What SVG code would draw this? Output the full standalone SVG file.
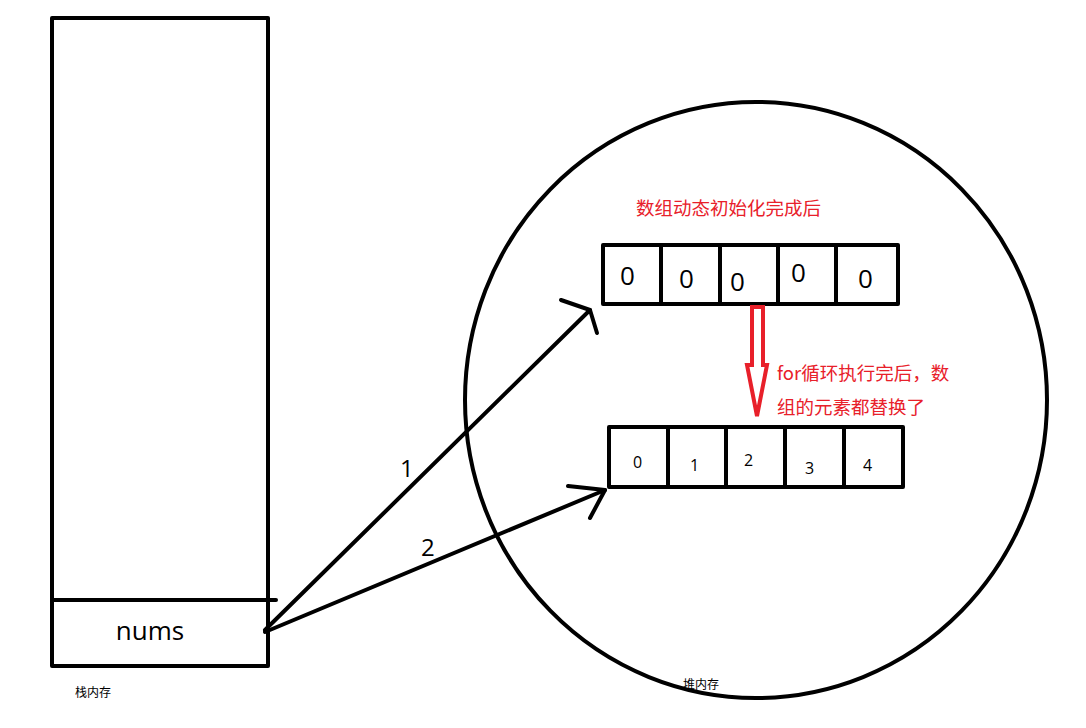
<svg xmlns="http://www.w3.org/2000/svg" width="1086" height="728" viewBox="0 0 1086 728">
<style>
.b{fill:none;stroke:#000;stroke-width:4;stroke-linecap:round;stroke-linejoin:round}
.d{font-family:"Open Sans","Liberation Sans",sans-serif;fill:#000}
.r{font-family:"Noto Sans CJK SC",sans-serif;fill:#e8202a;font-size:18.5px}
.s{font-family:"Noto Sans CJK SC",sans-serif;fill:#000;font-size:12px}
</style>
<rect width="1086" height="728" fill="#fff"/>
<g id="stack">
<rect class="b" x="52" y="18" width="216" height="648" stroke-linecap="butt"/>
<line class="b" x1="52" y1="600" x2="276" y2="600"/>
<text class="d" x="150" y="640" font-size="26" text-anchor="middle">nums</text>
<text class="s" x="75" y="697">栈内存</text>
</g>
<g id="heap">
<ellipse class="b" cx="756" cy="400" rx="291" ry="298"/>
<text class="s" x="683" y="689">堆内存</text>
<text class="r" x="636" y="215">数组动态初始化完成后</text>
</g>
<g id="array1">
<rect class="b" x="603" y="245" width="295" height="59"/>
<line class="b" x1="661" y1="245" x2="661" y2="304"/><line class="b" x1="720" y1="245" x2="720" y2="304"/><line class="b" x1="778" y1="245" x2="778" y2="304"/><line class="b" x1="836" y1="245" x2="836" y2="304"/>
<g class="d" font-size="26"><text x="620" y="285">0</text><text x="679" y="288">0</text><text x="730" y="291">0</text><text x="791" y="282">0</text><text x="858" y="288">0</text></g>
</g>
<g id="array2">
<rect class="b" x="609" y="427" width="294" height="60"/>
<line class="b" x1="668" y1="427" x2="668" y2="487"/><line class="b" x1="726" y1="427" x2="726" y2="487"/><line class="b" x1="785" y1="427" x2="785" y2="487"/><line class="b" x1="844" y1="427" x2="844" y2="487"/>
<g class="d" font-size="16"><text x="633" y="468">0</text><text x="690" y="471">1</text><text x="744" y="466">2</text><text x="805" y="474">3</text><text x="863" y="471">4</text></g>
</g>
<g id="note"><text class="r" x="777" y="380">for循环执行完后，数</text><text class="r" x="777" y="414">组的元素都替换了</text></g>
<g id="connectors">
<polygon points="752,307 763,307 763,365 767,365 757,416 747,365 752,365" fill="none" stroke="#e8202a" stroke-width="4"/>
<line class="b" x1="265" y1="630" x2="590" y2="310"/>
<polyline class="b" points="561,300 590,310 597,333"/>
<line class="b" x1="265" y1="632" x2="605" y2="490"/>
<polyline class="b" points="568,486 605,490 590,518"/>
<text class="d" x="400" y="477" font-size="24">1</text>
<text class="d" x="421" y="556" font-size="24">2</text>
</g>
</svg>
